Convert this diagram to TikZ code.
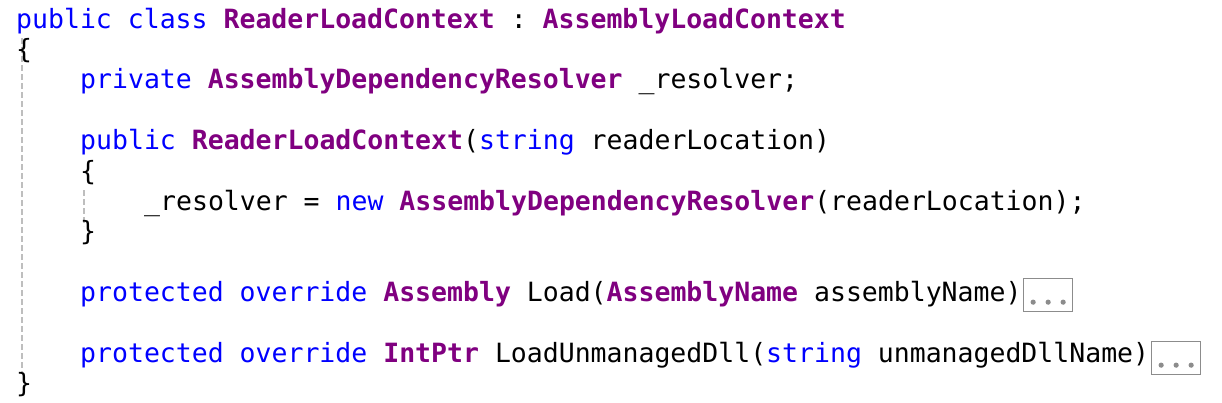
\documentclass[tikz,border=0pt]{standalone}
\usepackage{fontspec}
\setmonofont{DejaVu Sans Mono}
\definecolor{kw}{RGB}{0,0,255}
\definecolor{ty}{RGB}{128,0,128}
\definecolor{guide}{RGB}{190,190,190}
\definecolor{boxg}{RGB}{140,140,140}
\begin{document}
\begin{tikzpicture}[x=1pt,y=-1pt,
  code/.style={anchor=base west,inner sep=0pt,font=\ttfamily\fontsize{26.5}{30}\selectfont},
  fold/.style={draw=boxg,line width=1.3pt,fill=white},
  guideline/.style={draw=guide,line width=1.2pt,dash pattern=on 6pt off 3pt}]
\useasboundingbox (0,0) rectangle (1222,402);
\newcommand{\K}[1]{\textcolor{kw}{#1}}
\newcommand{\T}[1]{\textcolor{ty}{\bfseries #1}}
\coordinate (g1a) at (22,38); \coordinate (g1b) at (22,372);
\coordinate (g2a) at (84,190); \coordinate (g2b) at (84,226);
\draw[guideline] (g1a) -- (g1b);
\draw[guideline] (g2a) -- (g2b);
\node[code] (l0) at (16,28) {\K{public class} \T{ReaderLoadContext} : \T{AssemblyLoadContext}};
\node[code] (l1) at (16,58.4) {\{};
\node[code] (l2) at (80,88.8) {\K{private} \T{AssemblyDependencyResolver} \_resolver;};
\node[code] (l4) at (80,149.6) {\K{public} \T{ReaderLoadContext}(\K{string} readerLocation)};
\node[code] (l5) at (80,180) {\{};
\node[code] (l6) at (144,210.4) {\_resolver = \K{new} \T{AssemblyDependencyResolver}(readerLocation);};
\node[code] (l7) at (80,240.8) {\}};
\node[code] (l9) at (80,301.6) {\K{protected override} \T{Assembly} Load(\T{AssemblyName} assemblyName)};
\node[code] (l11) at (80,362.4) {\K{protected override} \T{IntPtr} LoadUnmanagedDll(\K{string} unmanagedDllName)};
\node[code] (l12) at (16,392.8) {\}};
\node[fold,minimum width=49pt,minimum height=33pt,anchor=north west] (f1) at (1023,278) {};
\node[fold,minimum width=49pt,minimum height=33pt,anchor=north west] (f2) at (1151,341) {};
\foreach \f in {f1,f2}{
  \foreach \dx in {-15,0,15} \fill[boxg] ([xshift=\dx pt,yshift=-7pt]\f.center) circle (2.6pt);
}
\end{tikzpicture}
\end{document}
